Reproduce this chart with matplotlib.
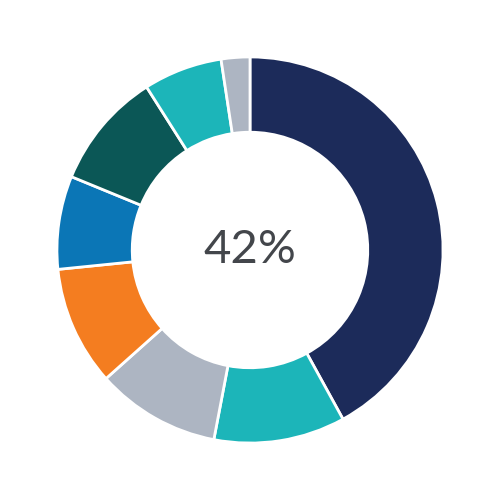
import matplotlib.pyplot as plt

labels = ['A', 'B', 'C', 'D', 'E', 'F', 'G', 'H']
sizes = [42, 11, 10.4, 10, 7.8, 9.8, 6.6, 2.4]
colors = ['#1c2b5a', '#1cb5b9', '#adb5c2', '#f47d20', '#0b76b6', '#0b5756', '#1cb5b9', '#adb5c2']
center_label = '42%'

fig = plt.figure(figsize=(5, 5), dpi=100)
ax = fig.add_axes([0, 0, 1, 1])

ax.pie(sizes, colors=colors, startangle=90, counterclock=False,
       wedgeprops=dict(width=0.39, edgecolor='white', linewidth=2))

ax.text(0, 0, center_label, ha='center', va='center', fontsize=34,
        color='#43464b', family='Lato')

ax.set_xlim(-1.295, 1.295)
ax.set_ylim(-1.295, 1.295)
ax.set_aspect('equal')
ax.axis('off')

plt.savefig('out.png', dpi=100)
